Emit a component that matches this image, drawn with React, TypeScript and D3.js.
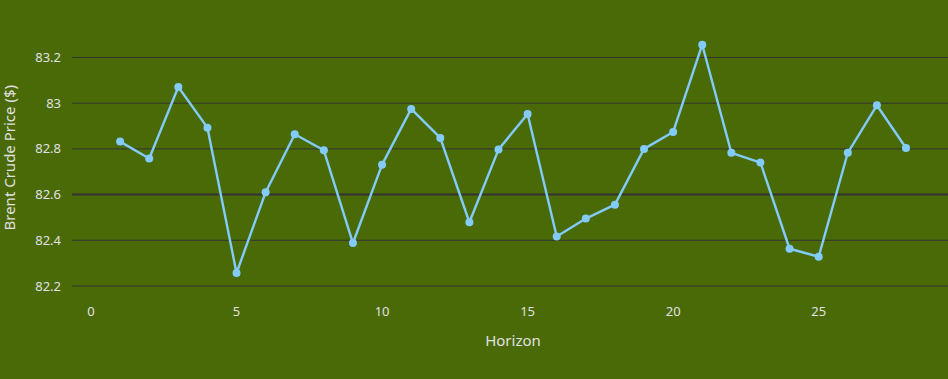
import React from "react";
import * as d3 from "d3";

const horizons: number[] = Array.from({ length: 28 }, (_, i) => i + 1);
const prices: number[] = [
  82.832, 82.758, 83.071, 82.893, 82.257, 82.61, 82.864, 82.794, 82.388, 82.731,
  82.975, 82.848, 82.479, 82.797, 82.953, 82.417, 82.495, 82.556, 82.8, 82.874,
  83.256, 82.783, 82.74, 82.363, 82.328, 82.783, 82.991, 82.804,
];
const yTicks: number[] = [82.2, 82.4, 82.6, 82.8, 83, 83.2];
const xTicks: number[] = [0, 5, 10, 15, 20, 25];

const W = 948;
const H = 379;
const FONT = "'Noto Sans', 'Open Sans', sans-serif";

export default function App() {
  const x = d3.scaleLinear().domain([0, 28]).range([91, 906]);
  const y = d3.scaleLinear().domain([82.2, 83.2]).range([286, 57.5]);
  const line = d3
    .line<number>()
    .x((_, i) => x(horizons[i]))
    .y((d) => y(d));

  return (
    <svg
      width={W}
      height={H}
      style={{ position: "absolute", left: 0, top: 0, display: "block" }}
      fontFamily={FONT}
    >
      <rect x={0} y={0} width={W} height={H} fill="#496a07" />
      {yTicks.map((t) => (
        <g key={t}>
          <line
            x1={72}
            x2={W}
            y1={y(t)}
            y2={y(t)}
            stroke="#333333"
            strokeWidth={Math.abs(t - 82.6) < 1e-6 ? 2 : 1}
          />
          <text
            x={61}
            y={y(t)}
            dy="0.35em"
            textAnchor="end"
            fontSize={13}
            fill="#e0e0e0"
          >
            {d3.format("")(t)}
          </text>
        </g>
      ))}
      {xTicks.map((t) => (
        <text
          key={t}
          x={x(t)}
          y={311}
          dy="0.35em"
          textAnchor="middle"
          fontSize={13}
          fill="#e0e0e0"
        >
          {t}
        </text>
      ))}
      <text
        x={513}
        y={341}
        dy="0.35em"
        textAnchor="middle"
        fontSize={15}
        fill="#e0e0e0"
      >
        Horizon
      </text>
      <text
        transform={`translate(10,${(57.5 + 286) / 2 - 14}) rotate(-90)`}
        dy="0.35em"
        textAnchor="middle"
        fontSize={15}
        fill="#e0e0e0"
      >
        Brent Crude Price ($)
      </text>
      <path
        d={line(prices) || ""}
        fill="none"
        stroke="#82cbfa"
        strokeWidth={2.4}
        strokeLinejoin="round"
      />
      {prices.map((p, i) => (
        <circle key={i} cx={x(horizons[i])} cy={y(p)} r={4} fill="#82cbfa" />
      ))}
    </svg>
  );
}
